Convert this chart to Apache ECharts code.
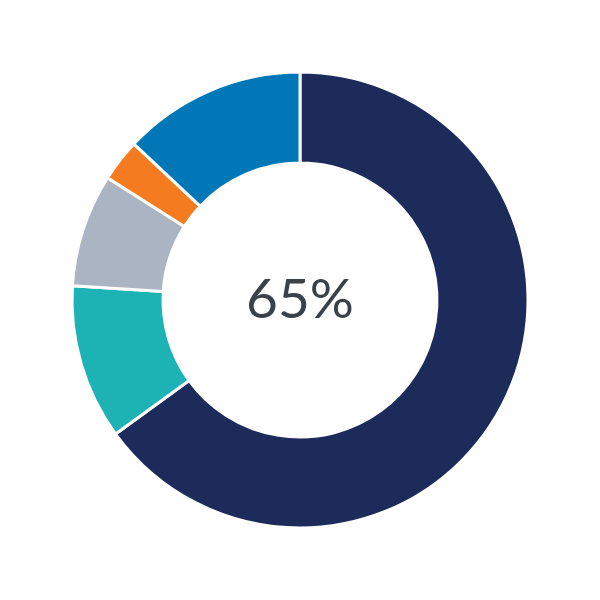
<!DOCTYPE html>
<html lang="en">
<head>
  <meta charset="utf-8">
  <title>Donut</title>
  <style>
    html, body { margin: 0; padding: 0; background: #fff; }
    .box { width: 600px; height: 600px; }
  </style>
</head>
<body>
  <script src="https://cdn.jsdelivr.net/npm/echarts@6/dist/echarts.min.js"></script>
  <div class="box"></div>
  <script>
    // slice data, clockwise from top
    var names = ['A', 'B', 'C', 'D', 'E'];
    var values = [65, 11, 8, 3, 13];
    var colors = ['#1c2b5a', '#1db3b5', '#aab4c3', '#f47b20', '#0077b6'];
    var centerText = '65%';

    var myChart = echarts.init(document.querySelector('.box'));

    var pieData = [];
    for (var i = 0; i < values.length; i++) {
      pieData.push({ name: names[i], value: values[i], itemStyle: { color: colors[i] } });
    }

    var option = {
      animation: false,
      title: {
        text: centerText,
        left: 'center',
        top: 'middle',
        textStyle: {
          fontFamily: 'Lato',
          fontWeight: 'normal',
          fontSize: 55,
          color: '#3a4148'
        }
      },
      series: [{
        type: 'pie',
        center: [300, 300],
        radius: [137, 228],
        startAngle: 90,
        clockwise: true,
        label: { show: false },
        labelLine: { show: false },
        itemStyle: { borderColor: '#fff', borderWidth: 3 },
        data: pieData
      }]
    };
    myChart.setOption(option);
  </script>
</body>
</html>
